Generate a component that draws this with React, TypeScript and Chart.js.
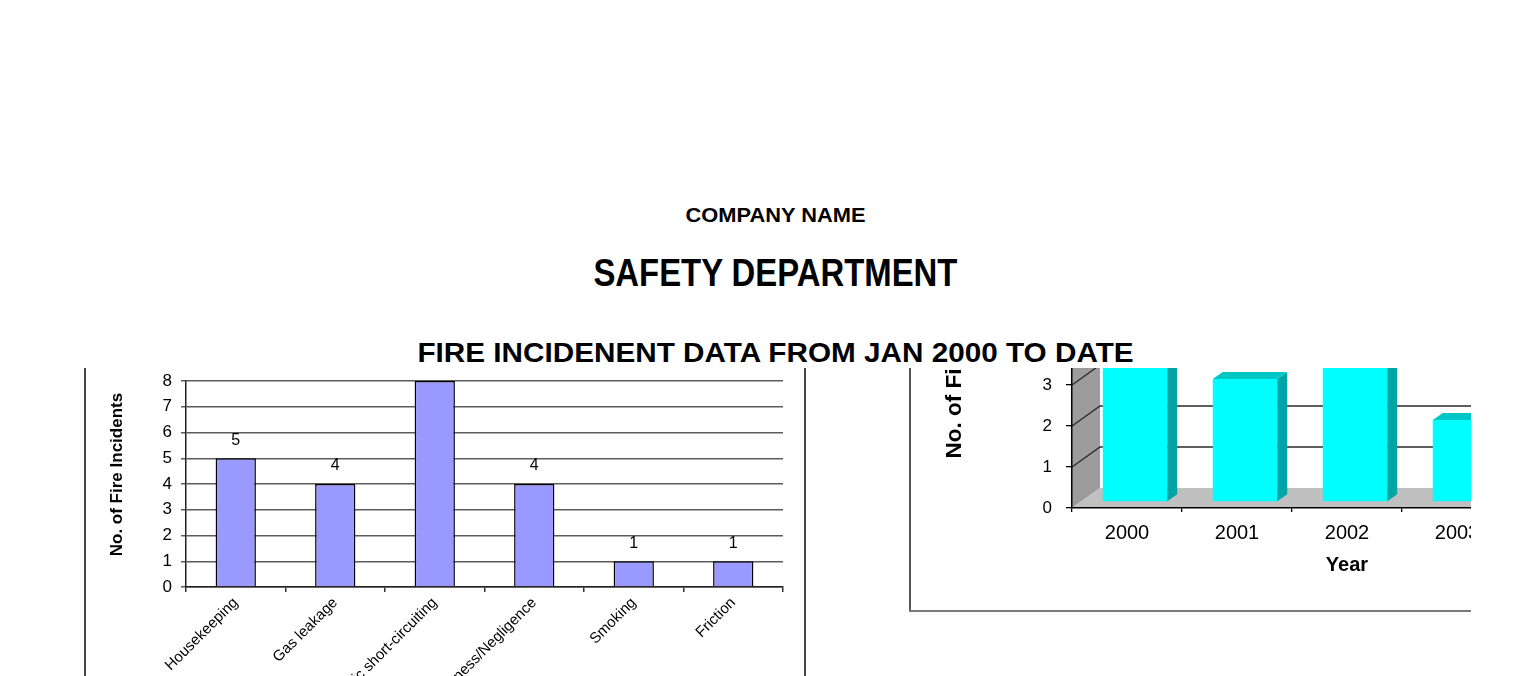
import React, { useEffect, useRef } from "react";
import { Chart, registerables } from "chart.js";

Chart.register(...registerables);

const FONT = '"Liberation Sans", Arial, Helvetica, sans-serif';

// ---- data ----
const causeLabels = [
  "Housekeeping",
  "Gas leakage",
  "Electric short-circuiting",
  "Carelessness/Negligence",
  "Smoking",
  "Friction",
];
const causeCounts = [5, 4, 8, 4, 1, 1];
const causeAxisMax = 8;

const yearLabels = ["2000", "2001", "2002", "2003", "2004"];
const yearCounts = [7, 3, 7, 2, 4];
const yearAxisMax = 8;

const companyTitle = "COMPANY NAME";
const departmentTitle = "SAFETY DEPARTMENT";
const reportTitle = "FIRE INCIDENENT DATA FROM JAN 2000 TO DATE";
const yTitle = "No. of Fire Incidents";
const xTitleYear = "Year";

// ---- 3D look constants (style) ----
const FLOOR_DX = 28;
const FLOOR_DY = 20;
const BAR_SHIFT_X = 8;
const BAR_SHIFT_Y = 6;
const BAR_DEPTH_X = 10;
const BAR_DEPTH_Y = 7;

const valueLabelsPlugin = {
  id: "valueLabels",
  afterDatasetsDraw(chart: any) {
    const { ctx } = chart;
    const meta = chart.getDatasetMeta(0);
    const data = chart.data.datasets[0].data;
    ctx.save();
    ctx.font = `16px ${FONT}`;
    ctx.fillStyle = "#000";
    ctx.textAlign = "center";
    ctx.textBaseline = "middle";
    meta.data.forEach((el: any, i: number) => {
      ctx.fillText(String(data[i]), el.x, el.y - 18);
    });
    ctx.restore();
  },
};

const threeDPlugin = {
  id: "threeD",
  beforeDraw(chart: any) {
    const { ctx, chartArea: a, scales } = chart;
    const y = scales.y;
    ctx.save();
    // left side wall
    ctx.fillStyle = "#9c9c9c";
    ctx.beginPath();
    ctx.moveTo(a.left, a.bottom);
    ctx.lineTo(a.left + FLOOR_DX, a.bottom - FLOOR_DY);
    ctx.lineTo(a.left + FLOOR_DX, a.top - FLOOR_DY);
    ctx.lineTo(a.left, a.top);
    ctx.closePath();
    ctx.fill();
    // floor
    ctx.fillStyle = "#c0c0c0";
    ctx.beginPath();
    ctx.moveTo(a.left, a.bottom);
    ctx.lineTo(a.right, a.bottom);
    ctx.lineTo(a.right + FLOOR_DX, a.bottom - FLOOR_DY);
    ctx.lineTo(a.left + FLOOR_DX, a.bottom - FLOOR_DY);
    ctx.closePath();
    ctx.fill();
    // grid lines on wall + back wall
    ctx.strokeStyle = "#2a2a2a";
    ctx.lineWidth = 1.3;
    y.ticks.forEach((t: any) => {
      if (t.value <= 0) return;
      const py = y.getPixelForValue(t.value);
      ctx.beginPath();
      ctx.moveTo(a.left, py);
      ctx.lineTo(a.left + FLOOR_DX, py - FLOOR_DY);
      ctx.lineTo(a.right + FLOOR_DX, py - FLOOR_DY);
      ctx.stroke();
    });
    ctx.restore();
  },
  beforeDatasetsDraw(chart: any) {
    chart.ctx.save();
    chart.ctx.translate(BAR_SHIFT_X, -BAR_SHIFT_Y);
  },
  afterDatasetsDraw(chart: any) {
    const { ctx } = chart;
    ctx.restore();
    const meta = chart.getDatasetMeta(0);
    ctx.save();
    meta.data.forEach((el: any) => {
      const p = el.getProps(["x", "y", "base", "width"], true);
      const l = p.x - p.width / 2 + BAR_SHIFT_X;
      const r = p.x + p.width / 2 + BAR_SHIFT_X;
      const t = p.y - BAR_SHIFT_Y;
      const b = p.base - BAR_SHIFT_Y;
      ctx.fillStyle = "#00a4a4";
      ctx.beginPath();
      ctx.moveTo(r, t);
      ctx.lineTo(r + BAR_DEPTH_X, t - BAR_DEPTH_Y);
      ctx.lineTo(r + BAR_DEPTH_X, b - BAR_DEPTH_Y);
      ctx.lineTo(r, b);
      ctx.closePath();
      ctx.fill();
      ctx.fillStyle = "#00c6c6";
      ctx.beginPath();
      ctx.moveTo(l, t);
      ctx.lineTo(l + BAR_DEPTH_X, t - BAR_DEPTH_Y);
      ctx.lineTo(r + BAR_DEPTH_X, t - BAR_DEPTH_Y);
      ctx.lineTo(r, t);
      ctx.closePath();
      ctx.fill();
    });
    ctx.restore();
  },
};

function CauseChart() {
  const ref = useRef<HTMLCanvasElement | null>(null);
  useEffect(() => {
    const chart = new Chart(ref.current as HTMLCanvasElement, {
      type: "bar",
      data: {
        labels: causeLabels,
        datasets: [
          {
            data: causeCounts,
            backgroundColor: "#9999ff",
            borderColor: "#000",
            borderWidth: 1.5,
            barPercentage: 0.405,
            categoryPercentage: 1,
          },
        ],
      },
      options: {
        responsive: false,
        animation: false,
        layout: { padding: { left: 0, top: 41, right: 21, bottom: 0 } },
        plugins: {
          legend: { display: false },
          tooltip: { enabled: false },
          title: { display: false },
        },
        scales: {
          x: {
            grid: {
              offset: true,
              drawOnChartArea: true,
              color: (c: any) =>
                c.index === causeLabels.length ? "#808080" : "rgba(0,0,0,0)",
              tickColor: "#333",
              tickLength: 5,
              lineWidth: 1.5,
            },
            border: { display: true, color: "#222", width: 1.5 },
            ticks: {
              font: { family: FONT, size: 15 },
              color: "#000",
              minRotation: 45,
              maxRotation: 45,
              autoSkip: false,
              padding: 2,
            },
            afterFit: (s: any) => {
              s.height = 120;
            },
          },
          y: {
            min: 0,
            max: causeAxisMax,
            ticks: {
              stepSize: 1,
              font: { family: FONT, size: 17 },
              color: "#000",
              padding: 9,
            },
            grid: { color: "#5c5c5c", tickLength: 5, lineWidth: 1.5 },
            border: { display: true, color: "#222", width: 1.5 },
            title: {
              display: true,
              text: "    " + yTitle,
              font: { family: FONT, size: 17, weight: "bold" },
              color: "#000",
              padding: { top: 21.5, bottom: 0 },
            },
            afterFit: (s: any) => {
              s.width = 100;
            },
          },
        },
      } as any,
      plugins: [valueLabelsPlugin],
    });
    return () => chart.destroy();
  }, []);
  return (
    <canvas
      ref={ref}
      width={718}
      height={367}
      style={{ position: "absolute", left: 0, top: -28, display: "block" }}
    />
  );
}

function YearChart() {
  const ref = useRef<HTMLCanvasElement | null>(null);
  useEffect(() => {
    const chart = new Chart(ref.current as HTMLCanvasElement, {
      type: "bar",
      data: {
        labels: yearLabels,
        datasets: [
          {
            data: yearCounts,
            backgroundColor: "#00ffff",
            borderWidth: 0,
            barPercentage: 0.586,
            categoryPercentage: 1,
          },
        ],
      },
      options: {
        responsive: false,
        animation: false,
        layout: { padding: { left: 0, top: 40, right: 30, bottom: 0 } },
        plugins: {
          legend: { display: false },
          tooltip: { enabled: false },
          title: { display: false },
        },
        scales: {
          x: {
            grid: {
              offset: true,
              drawOnChartArea: false,
              color: "#000",
              tickLength: 4,
              lineWidth: 1.3,
            },
            border: { display: true, color: "#000", width: 1.5 },
            ticks: {
              font: { family: FONT, size: 20 },
              color: "#000",
              padding: 9,
              maxRotation: 0,
              autoSkip: false,
            },
            title: {
              display: true,
              text: xTitleYear,
              font: { family: FONT, size: 20, weight: "bold" },
              color: "#000",
              padding: { top: 0, bottom: 16 },
            },
            afterFit: (s: any) => {
              s.height = 85;
            },
          },
          y: {
            min: 0,
            max: yearAxisMax,
            ticks: {
              stepSize: 1,
              font: { family: FONT, size: 17 },
              color: "#000",
              padding: 14,
            },
            grid: {
              drawOnChartArea: false,
              color: "#000",
              tickLength: 6,
              lineWidth: 1.3,
            },
            border: { display: true, color: "#000", width: 1.5 },
            title: {
              display: true,
              text: yTitle + "  ",
              font: { family: FONT, size: 22.5, weight: "bold" },
              color: "#000",
              padding: { top: 30.3, bottom: 0 },
            },
            afterFit: (s: any) => {
              s.width = 161;
            },
          },
        },
      } as any,
      plugins: [threeDPlugin],
    });
    return () => chart.destroy();
  }, []);
  return (
    <canvas
      ref={ref}
      width={741}
      height={453}
      style={{ position: "absolute", left: 0, top: -228, display: "block" }}
    />
  );
}

const centered = (
  top: number,
  size: number,
  scaleX: number,
  text: string
): React.ReactElement => (
  <div
    style={{
      position: "absolute",
      left: 0,
      width: 1551,
      top,
      textAlign: "center",
      fontSize: size,
      lineHeight: `${size}px`,
      fontWeight: "bold",
      whiteSpace: "nowrap",
      color: "#000",
    }}
  >
    <span
      style={{
        display: "inline-block",
        transform: `scaleX(${scaleX})`,
        transformOrigin: "center",
      }}
    >
      {text}
    </span>
  </div>
);

export default function App() {
  return (
    <div
      style={{
        position: "fixed",
        left: 0,
        top: 0,
        width: 1536,
        height: 676,
        overflow: "hidden",
        background: "#fff",
        fontFamily: FONT,
      }}
    >
      {centered(204, 21, 1.04, companyTitle)}
      {centered(254.4, 38, 0.865, departmentTitle)}
      {centered(340, 27, 1.1, reportTitle)}

      {/* left chart frame */}
      <div style={{ position: "absolute", left: 84, top: 368, width: 2, height: 308, background: "#444" }} />
      <div style={{ position: "absolute", left: 804, top: 368, width: 2, height: 308, background: "#444" }} />
      <div
        style={{
          position: "absolute",
          left: 86,
          top: 368,
          width: 718,
          height: 308,
          overflow: "hidden",
        }}
      >
        <CauseChart />
      </div>

      {/* right chart frame */}
      <div style={{ position: "absolute", left: 909, top: 368, width: 2, height: 243, background: "#555" }} />
      <div style={{ position: "absolute", left: 909, top: 610, width: 562, height: 2, background: "#7a7a7a" }} />
      <div
        style={{
          position: "absolute",
          left: 911,
          top: 368,
          width: 560,
          height: 242,
          overflow: "hidden",
        }}
      >
        <YearChart />
      </div>
    </div>
  );
}
